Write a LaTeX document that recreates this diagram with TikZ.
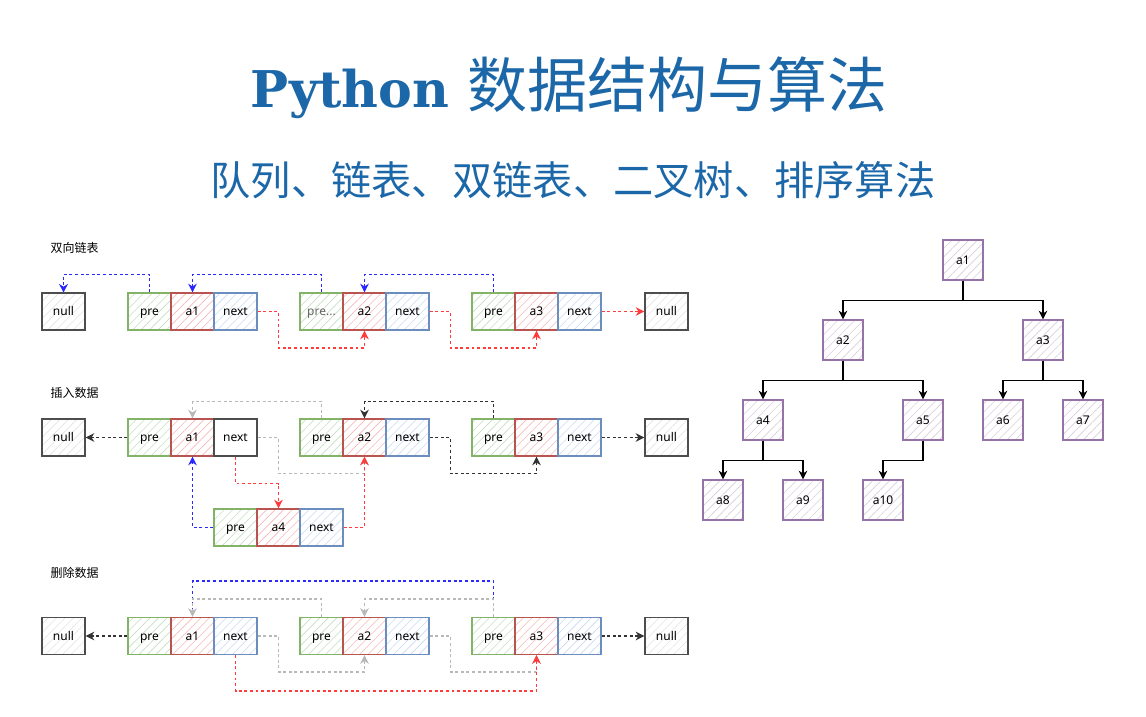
\documentclass[tikz,border=0pt]{standalone}
\usepackage{fontspec}
\setmainfont{Noto Sans}
\newfontfamily\cjk{Noto Sans CJK SC}
\newfontfamily\slab{DejaVu Serif}
\usetikzlibrary{patterns.meta,arrows.meta}

\definecolor{titleblue}{RGB}{27,103,168}
\definecolor{preline}{HTML}{82B366}
\definecolor{prehatch}{HTML}{C3DFBF}
\definecolor{valline}{HTML}{B85450}
\definecolor{valhatch}{HTML}{F5B8B5}
\definecolor{nextline}{HTML}{6C8EBF}
\definecolor{nexthatch}{HTML}{C4D9F5}
\definecolor{nullline}{HTML}{4D4D4D}
\definecolor{nullhatch}{HTML}{E2E2E2}
\definecolor{treeline}{HTML}{9673A6}
\definecolor{treehatch}{HTML}{D9CCE0}
\definecolor{linkblue}{HTML}{2828FF}
\definecolor{linkred}{HTML}{FF3B3B}
\definecolor{linkgray}{HTML}{B8B8B8}
\definecolor{linkdark}{HTML}{333333}

\begin{document}
\begin{tikzpicture}[x=0.75pt,y=-0.75pt,
  hatch/.style={pattern={Lines[angle=45,distance=4.5pt,line width=0.45pt]}},
  cell/.style={draw,line width=0.9pt,minimum width=32.25pt,minimum height=27.75pt,
    inner sep=0pt,text height=1.45ex,text depth=0.3ex,font=\fontsize{9}{10}\selectfont},
  precell/.style={cell,draw=preline,hatch,pattern color=prehatch},
  valcell/.style={cell,draw=valline,hatch,pattern color=valhatch},
  nextcell/.style={cell,draw=nextline,hatch,pattern color=nexthatch},
  nullcell/.style={cell,draw=nullline,hatch,pattern color=nullhatch},
  plaincell/.style={cell,draw=nullline,fill=white},
  treenode/.style={draw=treeline,line width=0.9pt,minimum size=30pt,inner sep=0pt,
    text height=1.45ex,text depth=0.3ex,
    hatch,pattern color=treehatch,font=\fontsize{9}{10}\selectfont},
  link/.style={line width=1.05pt,dash pattern=on 2.2pt off 2pt,
    -{Stealth[length=6.5pt,width=6.5pt,inset=2pt]}},
  bluelink/.style={link,linkblue},
  redlink/.style={link,linkred},
  graylink/.style={link,linkgray},
  darklink/.style={link,linkdark},
  treelink/.style={line width=0.8pt,-{Stealth[length=6.5pt,width=6.5pt,inset=2pt]}},
  section/.style={anchor=west,font=\cjk\fontsize{9}{10}\selectfont}]

  \useasboundingbox (0,0) rectangle (1146,717);

  % title
  \node[text=titleblue] (title) at (569,88)
    {\slab\bfseries\fontsize{38}{46}\selectfont Python \cjk\mdseries\fontsize{45}{50}\selectfont 数据结构与算法};
  \node[text=titleblue,font=\cjk\fontsize{30.2}{36}\selectfont] (subtitle) at (573,180)
    {队列、链表、双链表、二叉树、排序算法};

  % doubly linked list
  \node[section] (lab1) at (46,248) {双向链表};
  \node[nullcell] (r1null) at (63.5,311.5) {null};
  \node[precell] (r1p1) at (149.5,311.5) {pre};
  \node[valcell] (r1a1) at (192.5,311.5) {a1};
  \node[nextcell] (r1n1) at (235.5,311.5) {next};
  \node[precell,text=black!60] (r1p2) at (321.5,311.5) {pre...};
  \node[valcell] (r1a2) at (364.5,311.5) {a2};
  \node[nextcell] (r1n2) at (407.5,311.5) {next};
  \node[precell] (r1p3) at (493.5,311.5) {pre};
  \node[valcell] (r1a3) at (536.5,311.5) {a3};
  \node[nextcell] (r1n3) at (579.5,311.5) {next};
  \node[nullcell] (r1end) at (666.5,311.5) {null};

  \draw[bluelink] (r1p1.north) -- ++(0,-18) -| (r1null.north);
  \draw[bluelink] (r1p2.north) -- ++(0,-18) -| (r1a1.north);
  \draw[bluelink] (r1p3.north) -- ++(0,-18) -| (r1a2.north);
  \draw[redlink] (r1n1.east) -- ++(21,0) -- ++(0,36.5) -| (r1a2.south);
  \draw[redlink] (r1n2.east) -- ++(21,0) -- ++(0,36.5) -| (r1a3.south);
  \draw[redlink] (r1n3.east) -- (r1end.west);

  % insert
  \node[section] (lab2) at (46,393) {插入数据};
  \node[nullcell] (r2null) at (63.5,437.5) {null};
  \node[precell] (r2p1) at (149.5,437.5) {pre};
  \node[valcell] (r2a1) at (192.5,437.5) {a1};
  \node[plaincell] (r2n1) at (235.5,437.5) {next};
  \node[precell] (r2p2) at (321.5,437.5) {pre};
  \node[valcell] (r2a2) at (364.5,437.5) {a2};
  \node[nextcell] (r2n2) at (407.5,437.5) {next};
  \node[precell] (r2p3) at (493.5,437.5) {pre};
  \node[valcell] (r2a3) at (536.5,437.5) {a3};
  \node[nextcell] (r2n3) at (579.5,437.5) {next};
  \node[nullcell] (r2end) at (666.5,437.5) {null};
  \node[precell] (r2p4) at (235.5,527.5) {pre};
  \node[valcell] (r2a4) at (278.5,527.5) {a4};
  \node[nextcell] (r2n4) at (321.5,527.5) {next};

  \draw[darklink] (r2p1.west) -- (r2null.east);
  \draw[graylink] (r2p2.north) -- ++(0,-17) -| (r2a1.north);
  \draw[graylink] (r2n1.east) -- ++(21,0) -- ++(0,36) -| (r2a2.south);
  \draw[darklink] (r2p3.north) -- ++(0,-17) -| (r2a2.north);
  \draw[darklink] (r2n2.east) -- ++(21,0) -- ++(0,36) -| (r2a3.south);
  \draw[darklink] (r2n3.east) -- (r2end.west);
  \draw[redlink] (r2n1.south) -- ++(0,27) -| (r2a4.north);
  \draw[bluelink] (r2p4.west) -| (r2a1.south);
  \draw[redlink] (r2n4.east) -| (r2a2.south);

  % delete
  \node[section] (lab3) at (46,573) {删除数据};
  \node[nullcell] (r3null) at (63.5,636) {null};
  \node[precell] (r3p1) at (149.5,636) {pre};
  \node[valcell] (r3a1) at (192.5,636) {a1};
  \node[nextcell] (r3n1) at (235.5,636) {next};
  \node[precell] (r3p2) at (321.5,636) {pre};
  \node[valcell] (r3a2) at (364.5,636) {a2};
  \node[nextcell] (r3n2) at (407.5,636) {next};
  \node[precell] (r3p3) at (493.5,636) {pre};
  \node[valcell] (r3a3) at (536.5,636) {a3};
  \node[nextcell] (r3n3) at (579.5,636) {next};
  \node[nullcell] (r3end) at (666.5,636) {null};

  \draw[darklink] (r3p1.west) -- (r3null.east);
  \draw[bluelink,-] (r3p3.north) -- ++(0,-36) -| (r3a1.north);
  \draw[graylink] (r3p2.north) -- ++(0,-18) -| (r3a1.north);
  \draw[graylink] (r3p3.north) -- ++(0,-18) -| (r3a2.north);
  \draw[graylink] (r3n1.east) -- ++(21,0) -- ++(0,36) -| (r3a2.south);
  \draw[graylink] (r3n2.east) -- ++(21,0) -- ++(0,36) -| (r3a3.south);
  \draw[redlink] (r3n1.south) -- ++(0,36) -| (r3a3.south);
  \draw[darklink] (r3n3.east) -- (r3end.west);

  % binary tree
  \node[treenode] (t1) at (963,260) {a1};
  \node[treenode] (t2) at (843,340) {a2};
  \node[treenode] (t3) at (1043,340) {a3};
  \node[treenode] (t4) at (763,420) {a4};
  \node[treenode] (t5) at (923,420) {a5};
  \node[treenode] (t6) at (1003,420) {a6};
  \node[treenode] (t7) at (1083,420) {a7};
  \node[treenode] (t8) at (723,500) {a8};
  \node[treenode] (t9) at (803,500) {a9};
  \node[treenode] (t10) at (883,500) {a10};

  \draw[treelink] (t1.south) -- ++(0,20) -| (t2.north);
  \draw[treelink] (t1.south) -- ++(0,20) -| (t3.north);
  \draw[treelink] (t2.south) -- ++(0,20) -| (t4.north);
  \draw[treelink] (t2.south) -- ++(0,20) -| (t5.north);
  \draw[treelink] (t3.south) -- ++(0,20) -| (t6.north);
  \draw[treelink] (t3.south) -- ++(0,20) -| (t7.north);
  \draw[treelink] (t4.south) -- ++(0,20) -| (t8.north);
  \draw[treelink] (t4.south) -- ++(0,20) -| (t9.north);
  \draw[treelink] (t5.south) -- ++(0,20) -| (t10.north);

\end{tikzpicture}
\end{document}
